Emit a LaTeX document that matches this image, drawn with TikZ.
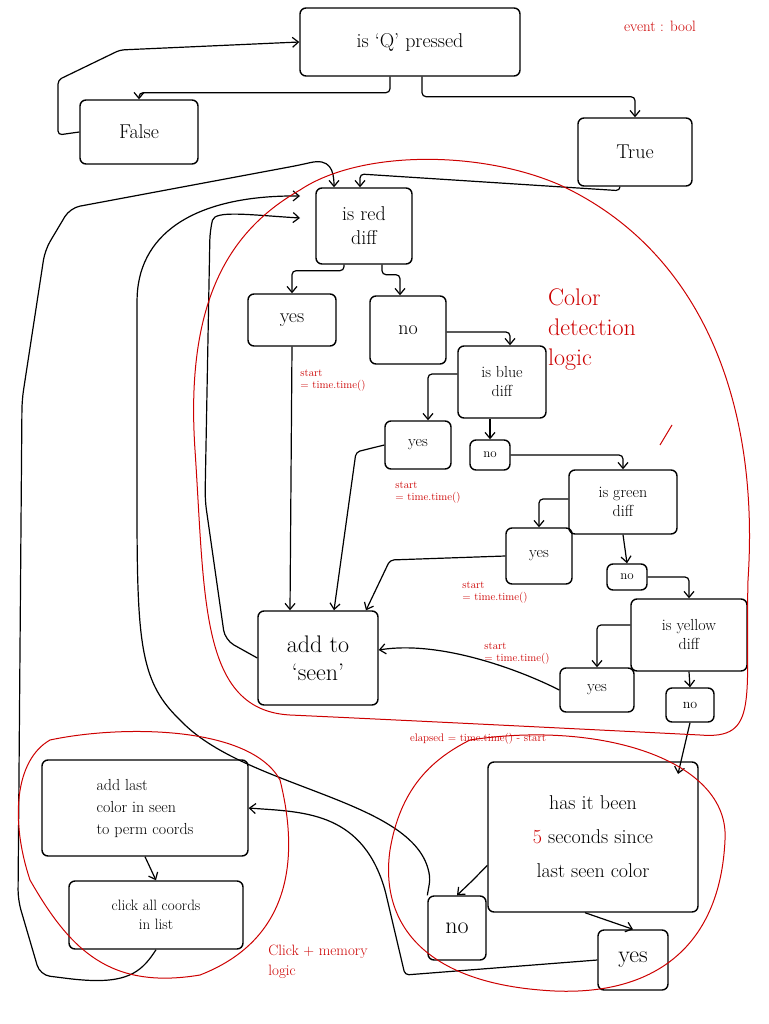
\documentclass[tikz,border=0pt]{standalone}
\usetikzlibrary{arrows.meta}
\begin{document}
\begin{tikzpicture}[x=1pt,y=-1pt,
  box/.style={draw,line width=1.4pt,rounded corners=6pt,align=center,inner sep=2pt,font=\fontsize{20}{24}\selectfont},
  bx/.style 2 args={box,minimum width=#1,minimum height=#2},
  con/.style={line width=1.2pt,-{Straight Barb[length=6pt,width=10pt]},rounded corners=4pt},
  rt/.style={text=red!80!black,align=left,font=\fontsize{11}{12}\selectfont},
  rl/.style={draw=red!80!black,line width=1pt}]
\useasboundingbox (0,0) rectangle (768,1024);
% nodes
\node[bx={220pt}{68pt}] (q) at (410,42) {is `Q' pressed};
\node[bx={118pt}{64pt}] (f) at (139,132) {False};
\node[bx={114pt}{68pt}] (t) at (635,152) {True};
\node[bx={96pt}{76pt}] (red) at (364,226) {is red\\diff};
\node[bx={88pt}{52pt}] (y1) at (292,320) {yes};
\node[bx={76pt}{68pt}] (n1) at (408,330) {no};
\node[bx={88pt}{72pt},font=\fontsize{16}{19}\selectfont] (blue) at (502,382) {is blue\\diff};
\node[bx={66pt}{48pt},font=\fontsize{16}{19}\selectfont] (y2) at (418,445) {yes};
\node[bx={40pt}{30pt},font=\fontsize{13}{15}\selectfont] (n2) at (490,455) {no};
\node[bx={108pt}{64pt},font=\fontsize{16}{19}\selectfont] (green) at (623,502) {is green\\diff};
\node[bx={66pt}{56pt},font=\fontsize{16}{19}\selectfont] (y3) at (539,556) {yes};
\node[bx={40pt}{26pt},font=\fontsize{13}{15}\selectfont] (n3) at (627,577) {no};
\node[bx={116pt}{72pt},font=\fontsize{16}{19}\selectfont] (yel) at (689,635) {is yellow\\diff};
\node[bx={74pt}{44pt},font=\fontsize{16}{19}\selectfont] (y4) at (597,690) {yes};
\node[bx={48pt}{34pt},font=\fontsize{14}{16}\selectfont] (n4) at (690,705) {no};
\node[bx={120pt}{94pt},font=\fontsize{24}{28}\selectfont] (add) at (318,658) {add to\\`seen'};
\node[bx={210pt}{150pt},font=\fontsize{20}{34}\selectfont] (has) at (593,837) {has it been\\{\color{red!80!black}5} seconds since\\last seen color};
\node[bx={58pt}{64pt},font=\fontsize{24}{28}\selectfont] (n5) at (457,928) {no};
\node[bx={70pt}{60pt},font=\fontsize{24}{28}\selectfont] (y5) at (633,960) {yes};
\node[bx={206pt}{96pt},font=\fontsize{16}{22}\selectfont,align=left] (al) at (145,808) {add last\\color in seen\\to perm coords};
\node[bx={174pt}{68pt},font=\fontsize{15}{19}\selectfont] (cl) at (156,915) {click all coords\\in list};
% connectors
\draw[con] ([xshift=-20pt]q.south) -- ++(0,16) -| (f.north);
\draw[con] ([xshift=12pt]q.south) -- ++(0,20) -| (t.north);
\draw[con] (f.west) -- (58,135) -- (58,80) -- (120,50) -- (q.west);
\draw[con] ([xshift=-15pt]t.south) -- ++(0,4) -- (360,174) -- ([xshift=-4pt]red.north);
\draw[con] ([xshift=-20pt]red.south) -- ++(0,6) -| (y1.north);
\draw[con] ([xshift=18pt]red.south) -- ++(0,10) -| ([xshift=-8pt]n1.north);
\draw[con] ([yshift=-2pt]n1.east) -| ([xshift=8pt]blue.north);
\draw[con] ([yshift=8pt]blue.west) -| ([xshift=10pt]y2.north);
\draw[con] (n2.north |- blue.south) -- (n2.north);
\draw[con] (n2.east) -| (green.north);
\draw[con] ([yshift=3pt]green.west) -| (y3.north);
\draw[con] (green.south) -- (n3.north);
\draw[con] (n3.east) -| (yel.north);
\draw[con] ([yshift=10pt]yel.west) -| (y4.north);
\draw[con] (yel.south) -- (n4.north);
\draw[con] (n4.south) -- (678,774);
\draw[con] (y1.south) -- ([xshift=-28pt]add.north);
\draw[con] (y2.west) -- (356,452) -- ([xshift=16pt]add.north);
\draw[con] (y3.west) -- (390,560) -- ([xshift=48pt]add.north);
\draw[con] (y4.west) .. controls (520,670) and (440,640) .. ([yshift=8pt]add.east);
\draw[con] (has.195) -- (473,880) -- (n5.north);
\draw[con] ([xshift=-8pt]has.south) -- (y5.north);
\draw[con] (y5.west) -- (405,975) -- (385,890) .. controls (360,810) and (300,812) .. (al.east);
\draw[con] (al.south) -- (cl.north);
\draw[con,rounded corners=10pt] (cl.south) .. controls (143,970) and (130,982) .. (80,980) -- (40,975) -- (18,900) -- (22,400) -- (45,250) -- (70,208) -- (300,165) .. controls (330,158) and (334,170) .. ([xshift=-30pt]red.north);
\draw[con] (n5.north west) -- (430,880) .. controls (420,800) and (250,790) .. (180,720) .. controls (140,680) and (137,640) .. (137,500) -- (137,300) .. controls (140,230) and (200,195) .. (300,196);
\draw[con,rounded corners=10pt] (add.west) -- (225,640) -- (205,500) -- (210,230) .. controls (215,210) and (250,215) .. (300,218);
% red annotations
\node[rt,font=\fontsize{15}{17}\selectfont] (ev) at (660,26) {event : bool};
\node[rt,font=\fontsize{24}{30}\selectfont] (cdl) at (592,330) {Color\\detection\\logic};
\node[rt] (s1) at (333,380) {start\\= time.time()};
\node[rt] (s2) at (428,492) {start\\= time.time()};
\node[rt] (s3) at (495,592) {start\\= time.time()};
\node[rt] (s4) at (517,653) {start\\= time.time()};
\node[rt,font=\fontsize{11}{12}\selectfont] (el) at (478,739) {elapsed = time.time() - start};
\node[rt,font=\fontsize{15}{20}\selectfont,align=left] (cml) at (318,962) {Click + memory\\logic};
\draw[rl] (660,445) -- (672,425);
\draw[rl] (300,190) .. controls (360,150) and (480,150) .. (560,185) .. controls (700,250) and (760,400) .. (748,580) .. controls (745,700) and (760,740) .. (700,735) .. controls (600,730) and (400,720) .. (290,715) .. controls (200,710) and (205,600) .. (195,450) .. controls (185,300) and (230,230) .. (300,190);
\draw[rl] (50,740) .. controls (120,725) and (250,725) .. (280,780) .. controls (300,860) and (290,940) .. (200,975) .. controls (110,990) and (70,950) .. (30,880) .. controls (10,820) and (15,760) .. (50,740);
\draw[rl] (470,740) .. controls (600,720) and (730,760) .. (725,840) .. controls (720,950) and (650,1000) .. (540,990) .. controls (420,980) and (380,920) .. (390,850) .. controls (400,790) and (430,760) .. (470,740);
\end{tikzpicture}
\end{document}
